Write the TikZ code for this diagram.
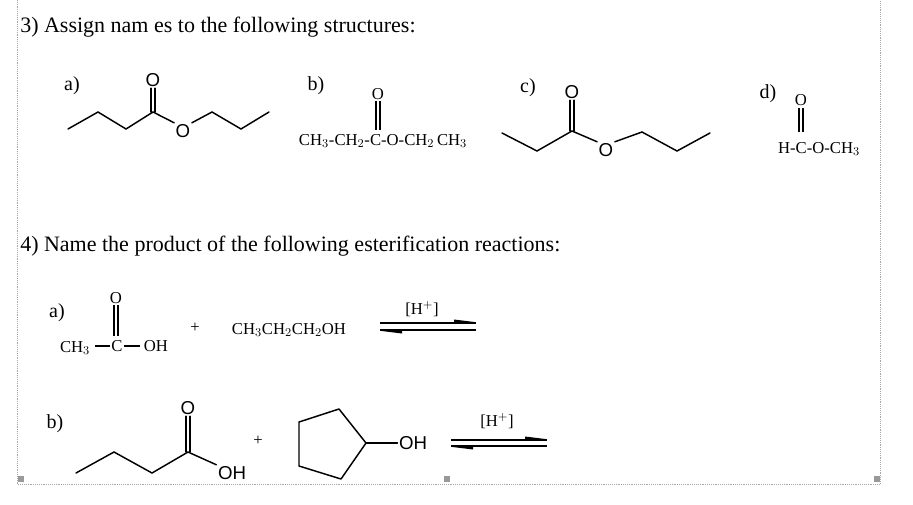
\documentclass[tikz,border=0pt]{standalone}
\usepackage{fontspec}
\setmainfont{Liberation Serif}
\newfontfamily\arial{Liberation Sans}
\begin{document}
\begin{tikzpicture}[x=0.75pt,y=-0.75pt,
  bond/.style={line width=1.1pt,line cap=round},
  lab/.style={inner sep=0pt,font=\fontsize{15}{15}\selectfont},
  atom/.style={inner sep=1pt,font=\fontsize{12.5}{12}\selectfont},
  satom/.style={inner sep=1pt,font=\arial\fontsize{14}{14}\selectfont},
  frm/.style={inner sep=0pt,font=\fontsize{12.5}{12}\selectfont},
  hd/.style={inner sep=0pt,anchor=west,font=\fontsize{16.5}{17}\selectfont}]
\useasboundingbox (0,0) rectangle (913,504);
\draw[gray!70,densely dotted] (17,0) -- (17,484) -- (880,484) -- (880,0);
\foreach \xx in {21,447,877} \fill[gray!80] (\xx-3,476) rectangle (\xx+3,482);
\node[hd] (h3) at (20,27) {3) Assign nam es to the following structures:};
\node[hd] (h4) at (20,246) {4) Name the product of the following esterification reactions:};
% 3a
\node[lab] (la) at (72,86) {a)};
\coordinate (a1) at (68,129); \coordinate (a2) at (98,112); \coordinate (a3) at (126,129);
\coordinate (a4) at (153,112); \node[satom] (aO) at (183,131) {O};
\coordinate (a6) at (212,112); \coordinate (a7) at (241,129); \coordinate (a8) at (269,112);
\node[satom] (aO2) at (153,80) {O};
\draw[bond] (a1)--(a2)--(a3)--(a4)--(aO.north west);
\draw[bond] (aO.north east)--(a6)--(a7)--(a8);
\draw[bond] ([xshift=-1.6pt]aO2.south)--([xshift=-1.6pt]a4);
\draw[bond] ([xshift=1.6pt]aO2.south)--([xshift=1.6pt]a4);
% 3b
\node[lab] (lb) at (316,86) {b)};
\node[atom] (bO) at (378,94) {O};
\node[frm] (bf) at (383,141) {CH$_3$-CH$_2$-C-O-CH$_2$\,CH$_3$};
\draw[line width=0.8pt] (376,101)--(376,130) (380,101)--(380,130);
% 3c
\node[lab] (lc) at (528,88) {c)};
\coordinate (c1) at (502,133); \coordinate (c2) at (537,151); \coordinate (c3) at (572,131);
\node[satom] (cO) at (606,150) {O};
\coordinate (c5) at (642,132); \coordinate (c6) at (677,151); \coordinate (c7) at (710,133);
\node[satom] (cO2) at (572,92) {O};
\draw[bond] (c1)--(c2)--(c3)--(cO.north west);
\draw[bond] (cO.north east)--(c5)--(c6)--(c7);
\draw[bond] ([xshift=-1.6pt]cO2.south)--([xshift=-1.6pt]c3);
\draw[bond] ([xshift=1.6pt]cO2.south)--([xshift=1.6pt]c3);
% 3d
\node[lab] (ld) at (768,94) {d)};
\node[atom] (dO) at (801,100) {O};
\node[frm] (df) at (819,149) {H-C-O-CH$_3$};
\draw[line width=0.8pt] (799,108)--(799,132) (803,108)--(803,132);
% 4a
\node[lab] (l4a) at (57,313) {a)};
\node[atom] (eO) at (116,298) {O};
\node[frm] (eCH) at (75,348) {CH$_3$};
\node[frm] (eC) at (117,346) {C};
\node[frm] (eOH) at (156,346) {OH};
\draw[line width=0.8pt] (114,305)--(114,336) (118,305)--(118,336);
\draw[line width=0.8pt] (95,346)--(110,346) (124,346)--(140,346);
\node[frm] (p1) at (195,328) {+};
\node[frm] (alc) at (289,330) {CH$_3$CH$_2$CH$_2$OH};
\coordinate (r1) at (380,323); \coordinate (r2) at (476,323);
\coordinate (r3) at (380,330); \coordinate (r4) at (476,330);
\draw[line width=1.2pt] (r1)--(r2) (r3)--(r4);
\fill (476,322.2)--(454,322.2)--(454,319.5)--cycle;
\fill (380,330.8)--(402,330.8)--(402,333.5)--cycle;
\node[frm] (hp1) at (422,309) {[H$^{+}$]};
% 4b
\node[lab] (l4b) at (55,424) {b)};
\coordinate (f1) at (76,473); \coordinate (f2) at (114,452); \coordinate (f3) at (152,473);
\coordinate (f4) at (188,452);
\node[satom] (fOH) at (232,473) {OH};
\node[satom] (fO) at (188,408) {O};
\draw[bond] (f1)--(f2)--(f3)--(f4)--(fOH.north west);
\draw[bond] ([xshift=-1.6pt]fO.south)--([xshift=-1.6pt]f4);
\draw[bond] ([xshift=1.6pt]fO.south)--([xshift=1.6pt]f4);
\node[frm] (p2) at (258,441) {+};
\coordinate (g1) at (339,409); \coordinate (g2) at (299,422); \coordinate (g3) at (299,466);
\coordinate (g4) at (341,479); \coordinate (g5) at (366,443);
\node[satom] (gOH) at (413,443) {OH};
\draw[bond,line join=round] (g1)--(g2)--(g3)--(g4)--(g5)--cycle;
\draw[bond] (g5)--(gOH.west);
\coordinate (s1) at (451,440); \coordinate (s2) at (547,440);
\coordinate (s3) at (451,446); \coordinate (s4) at (547,446);
\draw[line width=1.2pt] (s1)--(s2) (s3)--(s4);
\fill (547,439.2)--(525,439.2)--(525,436.5)--cycle;
\fill (451,446.8)--(473,446.8)--(473,449.5)--cycle;
\node[frm] (hp2) at (497,421) {[H$^{+}$]};
\end{tikzpicture}
\end{document}
